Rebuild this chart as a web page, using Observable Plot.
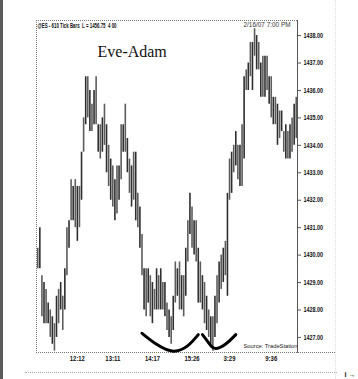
<!DOCTYPE html>
<html>
<head>
<meta charset="utf-8">
<script src="https://cdn.jsdelivr.net/npm/d3@7"></script>
<script src="https://cdn.jsdelivr.net/npm/@observablehq/plot@0.6"></script>
<style>
  html, body { margin: 0; padding: 0; background: #fff; }
  #wrap { position: relative; width: 358px; height: 379px; overflow: hidden; }
  #edge { position: absolute; left: 0; top: 0; width: 3px; height: 379px; background: #5a5a5a; }
  #scanH { position: absolute; left: 25px; top: 372px; width: 312px; border-top: 1px dotted #aaa; }
  #scanV { position: absolute; left: 335px; top: 0; height: 379px; border-left: 1px dotted #ddd; }
  #ext { position: absolute; left: 297px; top: 352px; width: 38px; border-top: 1px dotted #777; }
</style>
</head>
<body>
<div id="wrap"><div id="edge"></div><div id="scanH"></div><div id="scanV"></div><div id="ext"></div></div>
<script>
// Tick-bar highs and lows (610-tick bars, ES)
const highs = [
  1430.25, 1431, 1429.25, 1429, 1428.75, 1428.25, 1428, 1427.75, 1427.5, 1428.5,
  1428.75, 1429, 1428.5, 1429.5, 1431, 1431.25, 1432.75, 1432.5, 1432.75, 1432.5,
  1432.5, 1433.75, 1435, 1436.5, 1436.5, 1436, 1435.5, 1436, 1436.5, 1434.75,
  1434.75, 1435, 1435.5, 1434.75, 1434, 1433.5, 1433.25, 1432.75, 1433.25, 1433.25,
  1434.75, 1434.75, 1435.5, 1434.25, 1433.5, 1433.25, 1433.75, 1433.75, 1432.25, 1431.75,
  1430.75, 1429.5, 1429.5, 1429.5, 1429.25, 1429, 1428.75, 1429.5, 1429.25, 1429.5,
  1429, 1429, 1428.25, 1428, 1427.75, 1428.5, 1429.75, 1429.5, 1429.75, 1429.25,
  1429.25, 1430.25, 1431.25, 1432.25, 1431.75, 1431.25, 1431.25, 1430.25, 1429.75, 1429.25,
  1429, 1428.5, 1428, 1427.75, 1427.75, 1428.5, 1429.25, 1429.75, 1430, 1430.25,
  1430.5, 1432.25, 1433.5, 1433.75, 1434, 1434.5, 1434, 1434, 1434.75, 1436.5,
  1436.75, 1437, 1437.75, 1437.75, 1438.25, 1438, 1437.75, 1437, 1437.25, 1437.25,
  1437.25, 1436.5, 1436.5, 1435.75, 1435.75, 1435.5, 1435.25, 1435.25, 1434.5, 1434.75,
  1434.5, 1434.75, 1435, 1435.5, 1435.75
];
const lows = [
  1429.5, 1429.5, 1427.75, 1427.5, 1427.5, 1427.5, 1427, 1426.75, 1426.5, 1427,
  1427.5, 1428, 1427.25, 1428, 1429.25, 1430.25, 1431.25, 1431.25, 1431, 1430.5,
  1431, 1432, 1433.75, 1434.75, 1435, 1434.5, 1434.5, 1434.75, 1434.75, 1433.75,
  1433.5, 1433.75, 1434, 1433, 1432.5, 1432, 1431.75, 1431.25, 1431.5, 1432,
  1432.75, 1433.75, 1433.75, 1433, 1432.25, 1431.75, 1432, 1431.25, 1431, 1430.25,
  1429.25, 1428, 1427.75, 1428.25, 1427.75, 1427.5, 1428, 1428, 1428, 1428,
  1428, 1427.75, 1427.25, 1427, 1426.75, 1427.25, 1428.25, 1428.5, 1428, 1428,
  1427.75, 1428.5, 1429.75, 1430.75, 1430.25, 1430, 1429.75, 1428.25, 1428.25, 1428,
  1427.5, 1427.25, 1427, 1426.75, 1426.5, 1427, 1427.5, 1428.25, 1428.75, 1429,
  1429.25, 1428.5, 1432, 1432.25, 1433, 1433.25, 1432.75, 1432.5, 1432.5, 1433.5,
  1436, 1436, 1436.5, 1436, 1437.25, 1436.75, 1436.75, 1435.75, 1435.75, 1435.75,
  1436, 1435.5, 1435, 1434.75, 1434.75, 1434, 1434.25, 1434.5, 1433.75, 1433.5,
  1433.5, 1433.5, 1433.75, 1434, 1434.25
];
// Time axis labels placed at bar indices
const xTickBars = [19, 36, 55, 74, 92, 112];
const xTickLabels = ["12:12", "13:11", "14:17", "15:26", "3:29", "9:36"];
// Price axis ticks
const yTicks = [1427, 1428, 1429, 1430, 1431, 1432, 1433, 1434, 1435, 1436, 1437, 1438];
// Hand-drawn "Eve" and "Adam" bottoms (bar index, price)
const eveArcBar = [50, 57, 65, 72, 77];
const eveArcPrice = [1427.15, 1426.75, 1426.5, 1426.7, 1427.1];
const adamArcBar = [79, 82, 85, 90, 95];
const adamArcPrice = [1427.1, 1426.8, 1426.6, 1426.75, 1427.1];

const xDomain = [-0.6, highs.length - 0.4];
const yDomain = [1426.45, 1438.55];

const bars = highs.map((h, i) => ({i, high: h, low: lows[i]}));
const eve = eveArcBar.map((b, k) => ({i: b, p: eveArcPrice[k]}));
const adam = adamArcBar.map((b, k) => ({i: b, p: adamArcPrice[k]}));

const chart = Plot.plot({
  width: 358,
  height: 379,
  marginLeft: 36,
  marginRight: 61,
  marginTop: 20,
  marginBottom: 27,
  style: {fontFamily: "Liberation Sans, Arial, sans-serif", background: "transparent", color: "#111"},
  x: {domain: xDomain},
  y: {domain: yDomain},
  marks: [
    Plot.ruleX([xDomain[0]], {stroke: "#777", strokeDasharray: "1,1"}),
    Plot.ruleY([yDomain[1]], {stroke: "#777", strokeDasharray: "1,1"}),
    Plot.ruleY([yDomain[0]], {stroke: "#777", strokeDasharray: "1,1"}),
    Plot.ruleX([xDomain[1]], {stroke: "#555", strokeWidth: 1}),
    Plot.ruleX(bars, {x: "i", y1: "low", y2: "high", stroke: (d) => d.i % 2 ? "#2e2e2e" : "#5c5c5c", strokeWidth: 1.6}),
    Plot.line(eve, {x: "i", y: "p", curve: "natural", stroke: "#000", strokeWidth: 3, strokeLinecap: "round"}),
    Plot.line(adam, {x: "i", y: "p", curve: "natural", stroke: "#000", strokeWidth: 3, strokeLinecap: "round"}),
    Plot.axisY({anchor: "right", ticks: yTicks, tickFormat: (d) => d.toFixed(2), tickSize: 3, tickPadding: 3, fontSize: 7, fontWeight: "bold", stroke: "#555"}),
    Plot.axisX({anchor: "bottom", ticks: xTickBars, tickFormat: (d) => xTickLabels[xTickBars.indexOf(d)], tickSize: 0, tickPadding: 4, fontSize: 7, fontWeight: "bold"}),
    Plot.text(["@ES - 610 Tick Bars  L = 1456.75  4 00"], {frameAnchor: "top-left", dx: 1, dy: 2, fontSize: 7.5, fontWeight: "bold", lineAnchor: "top", textAnchor: "start"}),
    Plot.text(["2/16/07 7:00 PM"], {frameAnchor: "top-right", dx: -7, dy: 2, fontSize: 6.5, lineAnchor: "top", textAnchor: "end", fill: "#333"}),
    Plot.text(["Eve-Adam"], {frameAnchor: "top-left", dx: 61, dy: 25, fontSize: 16, fontFamily: "Liberation Serif, Times New Roman, serif", lineAnchor: "top", textAnchor: "start"}),
    Plot.text(["Source: TradeStation"], {frameAnchor: "bottom-right", dx: 0, dy: -5, fontSize: 6, lineAnchor: "bottom", textAnchor: "end", fill: "#222"})
  ]
});

document.getElementById("wrap").prepend(chart);
chart.style.position = "absolute";
chart.style.left = "0";
chart.style.top = "0";

// condense the small scanned-style labels
function squeeze(sel, perChar) {
  chart.querySelectorAll(sel).forEach((t) => {
    const s = t.textContent;
    t.setAttribute("textLength", (s.length * perChar).toFixed(1));
    t.setAttribute("lengthAdjust", "spacingAndGlyphs");
  });
}
squeeze('[aria-label="y-axis tick label"] text', 2.8);
squeeze('[aria-label="x-axis tick label"] text', 3.0);
chart.querySelectorAll('[aria-label="text"] text').forEach((t) => {
  const s = t.textContent;
  let w = null;
  if (s.startsWith("@ES")) w = 79;
  else if (s.startsWith("2/16")) w = 47;
  else if (s.startsWith("Source")) w = 54;
  if (w) { t.setAttribute("textLength", w); t.setAttribute("lengthAdjust", "spacingAndGlyphs"); }
});
</script>
</body>
</html>
